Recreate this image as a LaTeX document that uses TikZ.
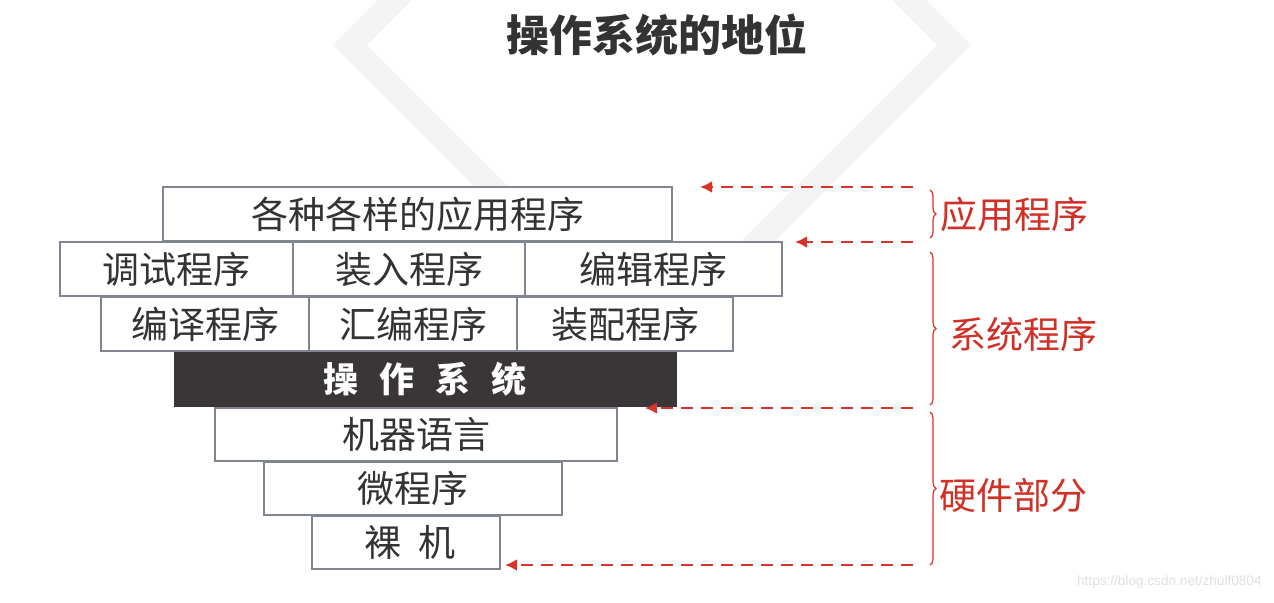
\documentclass[tikz,border=0pt]{standalone}
\usepackage{fontspec}
\newfontfamily\cjk{Noto Sans CJK SC}
\setsansfont{Liberation Sans}
\usetikzlibrary{decorations.pathreplacing,arrows.meta}
\definecolor{boxline}{RGB}{128,133,145}
\definecolor{osfill}{RGB}{58,54,55}
\definecolor{redline}{RGB}{214,52,40}
\definecolor{redtext}{RGB}{208,48,38}
\definecolor{titlecol}{RGB}{52,50,52}
\definecolor{bgband}{RGB}{243,243,243}
\tikzset{
  box/.style={draw=boxline, line width=0.75pt, fill=white, inner sep=0pt,
    font=\cjk\fontsize{18.5pt}{20pt}\selectfont, text=black!80},
  osbox/.style={draw=osfill, fill=osfill, inner sep=0pt,
    font=\cjk\bfseries\fontsize{17.5pt}{20pt}\selectfont, text=white},
  redarrow/.style={draw=redline, line width=1.4pt, dash pattern=on 6pt off 4pt,
    -{Latex[length=6pt,width=6pt]}},
  bracestyle/.style={draw=redline, line width=0.6pt, decorate,
    decoration={brace,amplitude=3pt}},
  grouplabel/.style={font=\cjk\fontsize{18.5pt}{20pt}\selectfont, text=redtext, inner sep=0pt}
}
\begin{document}
\begin{tikzpicture}[x=0.5pt,y=-0.5pt]
\useasboundingbox (0,0) rectangle (1274,602);
\fill[white] (0,0) rectangle (1274,602);
\begin{scope}
\clip (0,0) rectangle (1274,602);
\draw[bgband, line width=12pt, line join=miter] (350,45) -- (652,-257) -- (954,45) -- (652,347) -- cycle;
\end{scope}
% title
\node[font=\cjk\bfseries\fontsize{21.5pt}{24pt}\selectfont, text=titlecol, inner sep=0pt] (title) at (657,35) {操作系统的地位};
% boxes
\node[box, minimum width=254.5pt, minimum height=27pt] (app) at (417.5,214) {各种各样的应用程序};
\node[box, minimum width=116.5pt, minimum height=27pt] (debug) at (176.5,269) {调试程序};
\node[box, minimum width=116pt, minimum height=27pt] (load) at (409,269) {装入程序};
\node[box, minimum width=128.5pt, minimum height=27pt] (edit) at (653.5,269) {编辑程序};
\node[box, minimum width=104pt, minimum height=27pt] (comp) at (205,324) {编译程序};
\node[box, minimum width=104pt, minimum height=27pt] (asm) at (413,324) {汇编程序};
\node[box, minimum width=108pt, minimum height=27pt] (link) at (625,324) {装配程序};
\node[osbox, minimum width=251pt, minimum height=27pt] (os) at (425,379) {操\hspace{10.5pt}作\hspace{10.5pt}系\hspace{10.5pt}统};
\node[box, minimum width=201pt, minimum height=26.5pt] (ml) at (416,434.5) {机器语言};
\node[box, minimum width=149pt, minimum height=26.5pt] (micro) at (413,488.5) {微程序};
\node[box, minimum width=94pt, minimum height=26.5pt] (bare) at (406,542.5) {\hspace{4pt}裸\hspace{9pt}机};
% arrows
\coordinate (s1) at (913,187); \coordinate (e1) at (700,187);
\coordinate (s2) at (913,242); \coordinate (e2) at (795,242);
\coordinate (s3) at (913,408); \coordinate (e3) at (645,408);
\coordinate (s4) at (913,565); \coordinate (e4) at (505,565);
\draw[redarrow] (s1) -- (e1);
\draw[redarrow] (s2) -- (e2);
\draw[redarrow] (s3) -- (e3);
\draw[redarrow] (s4) -- (e4);
% braces
\coordinate (b1t) at (930,190); \coordinate (b1b) at (930,238);
\coordinate (b2t) at (930,252); \coordinate (b2b) at (930,405);
\coordinate (b3t) at (930,412); \coordinate (b3b) at (930,565);
\draw[bracestyle] (b1t) -- (b1b);
\draw[bracestyle] (b2t) -- (b2b);
\draw[bracestyle] (b3t) -- (b3b);
\node[grouplabel] (lab1) at (1014,214) {应用程序};
\node[grouplabel] (lab2) at (1023,334) {系统程序};
\node[grouplabel] (lab3) at (1013,495) {硬件部分};
% watermark
\node[font=\sffamily\fontsize{6.8pt}{8pt}\selectfont, text=black!12, inner sep=0pt, anchor=east] (wm) at (1262,582) {https://blog.csdn.net/zhulf0804};
\end{tikzpicture}
\end{document}
